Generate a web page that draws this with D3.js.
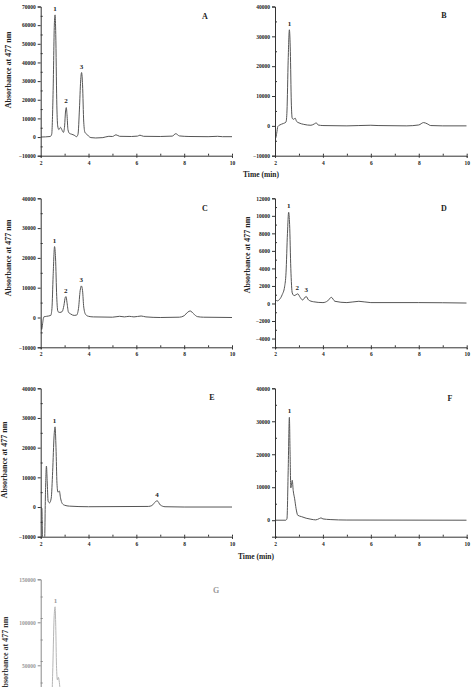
<!DOCTYPE html>
<html>
<head>
<meta charset="utf-8">
<script src="https://cdn.jsdelivr.net/npm/d3@7"></script>
<style>
  body { margin: 0; background: #fff; }
  text { font-family: "Liberation Serif", "Times New Roman", serif; font-weight: bold; }
</style>
</head>
<body>
<div id="chart"></div>
<script>
// chromatogram traces (time in min, absorbance at 477 nm)
const timeA = [2.0, 2.2, 2.4, 2.46, 2.52, 2.57, 2.6, 2.63, 2.67, 2.71, 2.76, 2.83, 2.9, 2.95, 3.0, 3.04, 3.07, 3.1, 3.14, 3.2, 3.3, 3.4, 3.5, 3.56, 3.62, 3.67, 3.71, 3.75, 3.8, 3.85, 3.93, 4.0, 4.1, 4.3, 4.6, 4.85, 5.0, 5.15, 5.3, 5.8, 6.05, 6.15, 6.3, 7.0, 7.5, 7.65, 7.8, 8.2, 9.0, 9.4, 9.6, 10];
const absA  = [0, 100, 300, 1500, 25000, 60000, 65500, 55000, 20000, 6000, 4000, 5200, 3500, 2500, 6000, 14000, 15800, 12000, 4000, 2000, 1500, 1000, 200, 1500, 15000, 30000, 34600, 28000, 8000, 2500, 1500, 500, -300, -500, -300, 400, 300, 1200, 400, 300, 500, 1000, 400, 300, 500, 1800, 600, 300, 200, 400, 200, 200];

const timeB = [2.0, 2.03, 2.07, 2.12, 2.2, 2.35, 2.46, 2.5, 2.55, 2.6, 2.64, 2.68, 2.72, 2.78, 2.84, 2.9, 3.0, 3.2, 3.5, 3.65, 3.72, 3.8, 4.0, 5.0, 6.0, 6.3, 7.5, 8.0, 8.2, 8.35, 8.5, 9.0, 10];
const absB  = [-1000, -4000, -2500, -200, 300, 800, 1300, 5000, 22000, 32200, 25000, 8000, 2500, 2200, 2600, 1500, 1000, 500, 200, 700, 1000, 300, 100, 0, 200, 100, 0, 300, 1100, 700, 100, 0, 0];

const timeC = [2.0, 2.04, 2.08, 2.13, 2.25, 2.42, 2.47, 2.52, 2.58, 2.62, 2.67, 2.72, 2.8, 2.9, 2.97, 3.03, 3.06, 3.1, 3.16, 3.25, 3.4, 3.5, 3.58, 3.65, 3.7, 3.75, 3.8, 3.88, 4.0, 4.2, 5.0, 5.3, 5.5, 5.7, 5.9, 6.2, 6.4, 7.0, 7.8, 8.0, 8.15, 8.25, 8.4, 8.55, 8.8, 10];
const absC  = [-500, -4000, -2000, 200, 400, 700, 3000, 14000, 23800, 20000, 7000, 2000, 1700, 2000, 4000, 6800, 7000, 5000, 1800, 1200, 700, 800, 3000, 9000, 10600, 9000, 3500, 1000, 400, 200, 100, 400, 200, 400, 200, 500, 200, 0, 100, 600, 1800, 2200, 1200, 300, 100, 0];

const timeD = [2.0, 2.1, 2.2, 2.3, 2.4, 2.46, 2.52, 2.57, 2.61, 2.66, 2.72, 2.8, 2.88, 2.95, 3.05, 3.15, 3.3, 3.4, 3.6, 4.0, 4.2, 4.35, 4.5, 5.0, 5.5, 6.0, 8.0, 10];
const absD  = [500, 300, 500, 1000, 1900, 3500, 8000, 10400, 9000, 4000, 1200, 900, 1000, 1100, 700, 400, 800, 400, 200, 100, 300, 700, 250, 100, 250, 100, 100, 50];

const timeE = [2.0, 2.05, 2.08, 2.16, 2.2, 2.24, 2.27, 2.31, 2.37, 2.44, 2.5, 2.56, 2.6, 2.64, 2.68, 2.72, 2.78, 2.83, 2.9, 3.0, 3.2, 4.0, 6.5, 6.65, 6.8, 6.87, 7.0, 7.2, 8.0, 10];
const absE  = [0, -500, -12000, -12000, 5000, 13800, 9000, 2000, 1400, 3000, 12000, 24000, 27000, 20000, 8000, 5000, 5400, 3000, 1200, 600, 300, 100, 200, 500, 1800, 2100, 700, 100, 0, 0];

const timeF = [2.0, 2.45, 2.5, 2.55, 2.6, 2.63, 2.66, 2.7, 2.72, 2.76, 2.82, 2.88, 2.95, 3.1, 3.3, 3.5, 3.7, 3.85, 3.92, 4.0, 4.3, 5.0, 10];
const absF  = [0, 0, 500, 15000, 31200, 20000, 9800, 11500, 12100, 9000, 6500, 3500, 1500, 1100, 600, 300, 100, 500, 700, 400, 200, 50, 0];

const timeG = [2.0, 2.45, 2.5, 2.56, 2.6, 2.63, 2.66, 2.7, 2.74, 2.78, 2.85, 3.0, 4.0, 10];
const absG  = [0, 2000, 40000, 105000, 118000, 95000, 50000, 33000, 36000, 30000, 10000, 3000, 500, 0];

// peak numbers
const peakNamesA = ["1", "2", "3"], peakTimesA = [2.6, 3.06, 3.71], peakValsA = [65500, 15900, 34600];
const peakNamesB = ["1"], peakTimesB = [2.6], peakValsB = [32200];
const peakNamesC = ["1", "2", "3"], peakTimesC = [2.58, 3.05, 3.7], peakValsC = [23800, 7000, 10600];
const peakNamesD = ["1", "2", "3"], peakTimesD = [2.57, 2.93, 3.3], peakValsD = [10400, 1100, 800];
const peakNamesE = ["1", "4"], peakTimesE = [2.58, 6.86], peakValsE = [27000, 2100];
const peakNamesF = ["1"], peakTimesF = [2.6], peakValsF = [31200];
const peakNamesG = ["1"], peakTimesG = [2.62], peakValsG = [118000];

// axis ranges and ticks
const xTicks = [2, 4, 6, 8, 10];
const yDomainA = [-10000, 70000], yTicksA = d3.range(-10000, 70001, 10000);
const yDomainB = [-10000, 40000], yTicksB = d3.range(-10000, 40001, 10000);
const yDomainC = [-10000, 40000], yTicksC = d3.range(-10000, 40001, 10000);
const yDomainD = [-5000, 12000], yTicksD = d3.range(-4000, 12001, 2000);
const yDomainE = [-10000, 40000], yTicksE = d3.range(-10000, 40001, 10000);
const yDomainF = [-5000, 40000], yTicksF = d3.range(0, 40001, 10000);
const yDomainG = [-20000, 150000], yTicksG = [50000, 100000, 150000];

const width = 474, height = 687;
const svg = d3.select("#chart").append("svg")
  .attr("width", width)
  .attr("height", height);

const leftX = [40.7, 232], rightX = [275, 466.7];

const panels = [
  { id: "A", t: timeA, v: absA, dom: yDomainA, ticks: yTicksA, minor: 5000, xr: leftX, top: 6.5, bottom: 155.7,
    pk: [peakNamesA, peakTimesA, peakValsA], letter: [205, 19], ylab: [10, 70] },
  { id: "B", t: timeB, v: absB, dom: yDomainB, ticks: yTicksB, minor: 5000, xr: rightX, top: 6.5, bottom: 155.7,
    pk: [peakNamesB, peakTimesB, peakValsB], letter: [444, 18], ylab: null },
  { id: "C", t: timeC, v: absC, dom: yDomainC, ticks: yTicksC, minor: 5000, xr: leftX, top: 198.3, bottom: 347.3,
    pk: [peakNamesC, peakTimesC, peakValsC], letter: [205, 211], ylab: [10, 258] },
  { id: "D", t: timeD, v: absD, dom: yDomainD, ticks: yTicksD, minor: 1000, xr: rightX, top: 198.3, bottom: 347.3,
    pk: [peakNamesD, peakTimesD, peakValsD], letter: [444, 211], ylab: [249, 255] },
  { id: "E", t: timeE, v: absE, dom: yDomainE, ticks: yTicksE, minor: 5000, xr: leftX, top: 388.3, bottom: 536.7,
    pk: [peakNamesE, peakTimesE, peakValsE], letter: [212, 400], ylab: [6, 460] },
  { id: "F", t: timeF, v: absF, dom: yDomainF, ticks: yTicksF, minor: 5000, xr: rightX, top: 388.3, bottom: 536.7,
    pk: [peakNamesF, peakTimesF, peakValsF], letter: [450, 401], ylab: null },
  // G runs off the bottom of the figure, so its x axis is never seen
  { id: "G", t: timeG, v: absG, dom: yDomainG, ticks: yTicksG, minor: 25000, xr: leftX, top: 579.3, bottom: 725.5,
    pk: [peakNamesG, peakTimesG, peakValsG], letter: [216, 593], ylab: [7, 655], faded: true, noXAxis: true }
];

panels.forEach(p => drawPanel(p));

// shared x labels
svg.append("text").attr("x", 243).attr("y", 176.5)
  .attr("font-size", 7.5).attr("fill", "#222").text("Time (min)");
svg.append("text").attr("x", 238).attr("y", 558.5)
  .attr("font-size", 7.5).attr("fill", "#222").text("Time (min)");

function drawPanel(p) {
  let axisColor = p.faded ? "#8a8a8a" : "#333";
  let lineColor = p.faded ? "#b5b5b5" : "#555";
  let textColor = p.faded ? "#999" : "#222";

  let x = d3.scaleLinear().domain([2, 10]).range(p.xr);
  let y = d3.scaleLinear().domain(p.dom).range([p.bottom, p.top]);
  let g = svg.append("g").attr("class", "panel-" + p.id);

  // clip trace to the plot box
  g.append("clipPath").attr("id", "clip-" + p.id)
    .append("rect")
      .attr("x", p.xr[0]).attr("y", p.top)
      .attr("width", p.xr[1] - p.xr[0]).attr("height", p.bottom - p.top);

  let line = d3.line()
    .x(d => x(d[0]))
    .y(d => y(d[1]))
    .curve(d3.curveMonotoneX);

  g.append("path")
    .datum(d3.zip(p.t, p.v))
    .attr("clip-path", "url(#clip-" + p.id + ")")
    .attr("fill", "none")
    .attr("stroke", lineColor)
    .attr("stroke-width", 1)
    .attr("d", line);

  // y axis: major ticks outward, minor ticks inward
  g.append("g").attr("transform", "translate(" + p.xr[0] + ",0)")
    .call(d3.axisLeft(y).tickValues(p.ticks).tickSize(3).tickPadding(2).tickFormat(d3.format("d")));
  let minorY = d3.range(p.dom[0], p.dom[1] + 1, p.minor).filter(v => !p.ticks.includes(v) && v % (p.minor * 2) !== 0);
  g.append("g").attr("transform", "translate(" + p.xr[0] + ",0)")
    .call(d3.axisRight(y).tickValues(minorY).tickSize(2).tickFormat(""))
    .call(a => a.select(".domain").remove());

  // x axis
  if (!p.noXAxis) {
    g.append("g").attr("transform", "translate(0," + p.bottom + ")")
      .call(d3.axisBottom(x).tickValues(xTicks).tickSize(2).tickPadding(3).tickFormat(d3.format("d")));
    g.append("g").attr("transform", "translate(0," + p.bottom + ")")
      .call(d3.axisTop(x).tickValues([3, 5, 7, 9]).tickSize(2).tickFormat(""))
      .call(a => a.select(".domain").remove());
    g.append("g").attr("transform", "translate(0," + p.bottom + ")")
      .call(d3.axisTop(x).tickValues(xTicks.slice(1)).tickSize(2).tickFormat(""))
      .call(a => a.select(".domain").remove());
  }

  g.selectAll(".domain").attr("stroke", axisColor).attr("stroke-width", 1);
  g.selectAll(".tick line").attr("stroke", axisColor);
  g.selectAll(".tick text")
    .attr("font-family", "'Liberation Serif', 'Times New Roman', serif")
    .attr("font-weight", "bold")
    .attr("font-size", 5.5)
    .attr("fill", textColor);

  // peak numbers
  let [names, times, vals] = p.pk;
  names.forEach((n, i) => {
    g.append("text")
      .attr("x", x(times[i]))
      .attr("y", y(vals[i]) - 4)
      .attr("text-anchor", "middle")
      .attr("font-size", 7)
      .attr("fill", textColor)
      .text(n);
  });

  // panel letter
  g.append("text")
    .attr("x", p.letter[0]).attr("y", p.letter[1])
    .attr("text-anchor", "middle")
    .attr("font-size", 8)
    .attr("fill", textColor)
    .text(p.id);

  if (p.ylab) {
    g.append("text")
      .attr("transform", "translate(" + (p.ylab[0] + 1) + "," + p.ylab[1] + ") rotate(-90)")
      .attr("text-anchor", "middle")
      .attr("font-size", 8)
      .attr("fill", p.faded ? "#333" : "#222")
      .text("Absorbance at 477 nm");
  }
}
</script>
</body>
</html>
